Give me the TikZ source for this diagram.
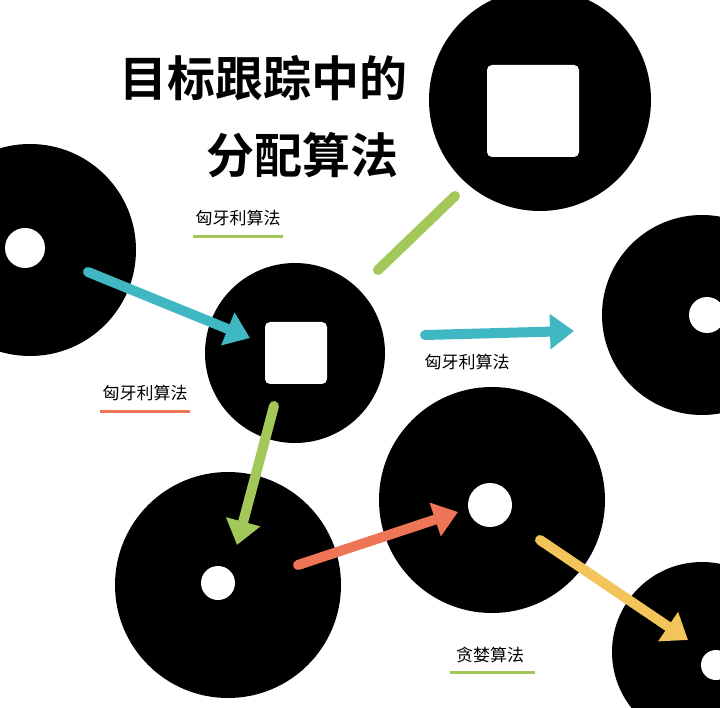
\documentclass[tikz,border=0pt]{standalone}
\usepackage{fontspec}
\newfontfamily\cjk{Noto Sans CJK SC}
\newfontfamily\cjkb{Noto Sans CJK SC Bold}
\usetikzlibrary{arrows.meta}
\definecolor{teal1}{HTML}{3FB8C4}
\definecolor{green1}{HTML}{A2C859}
\definecolor{coral}{HTML}{EE7656}
\definecolor{yel}{HTML}{F2C45A}
\tikzset{disk/.style={circle,fill=black,inner sep=0pt,minimum size=#1},
 hole/.style={circle,fill=white,inner sep=0pt,minimum size=#1},
 sq/.style={fill=white,rounded corners=5pt,inner sep=0pt,minimum size=#1},
 arr/.style={line width=10pt,line cap=round,draw=#1,-{Triangle[length=24pt,width=34pt]}},
 lab/.style={font=\cjk\fontsize{17}{17}\selectfont,inner sep=0pt},
 uline/.style={line width=3pt,draw=#1}}
\begin{document}
\begin{tikzpicture}[x=1pt,y=-1pt]
\useasboundingbox[fill=white] (0,0) rectangle (720,708);
\node[disk=212] (c1) at (30,250) {};
\node[hole=40] (h1) at (25,248) {};
\node[disk=222] (c2) at (540,100) {};
\node[sq=92] (s2) at (533,111) {};
\node[disk=180] (c3) at (295,353) {};
\node[sq=62] (s3) at (296,353) {};
\node[disk=200] (c4) at (702,315) {};
\node[hole=36] (h4) at (707,315) {};
\node[disk=226] (c5) at (228,585) {};
\node[hole=34] (h5) at (218,583) {};
\node[disk=226] (c6) at (492,500) {};
\node[hole=44] (h6) at (490,505) {};
\node[disk=180] (c7) at (702,652) {};
\node[hole=30] (h7) at (716,665) {};
\node[font=\cjkb\fontsize{48}{48}\selectfont,inner sep=0pt] (t1) at (263,78) {目标跟踪中的};
\node[font=\cjkb\fontsize{48}{48}\selectfont,inner sep=0pt] (t2) at (302,155) {分配算法};
\coordinate (a1s) at (88,272); \coordinate (a1e) at (250,338);
\draw[arr=teal1] (a1s) -- (a1e);
\coordinate (g1s) at (378,270); \coordinate (g1e) at (455,196);
\draw[line width=10pt,line cap=round,draw=green1] (g1s) -- (g1e);
\coordinate (a2s) at (425,335); \coordinate (a2e) at (574,331);
\draw[arr=teal1] (a2s) -- (a2e);
\coordinate (a3s) at (274,406); \coordinate (a3e) at (237,545);
\draw[arr=green1] (a3s) -- (a3e);
\coordinate (a4s) at (298,565); \coordinate (a4e) at (458,512);
\draw[arr=coral] (a4s) -- (a4e);
\coordinate (a5s) at (540,540); \coordinate (a5e) at (688,640);
\draw[arr=yel] (a5s) -- (a5e);
\node[lab] (l1) at (238,218) {匈牙利算法};
\draw[uline=green1] (193,237) -- (283,237);
\node[lab] (l2) at (145,393) {匈牙利算法};
\draw[uline=coral] (100,411) -- (190,411);
\node[lab] (l3) at (467,362) {匈牙利算法};
\node[lab] (l4) at (490,655) {贪婪算法};
\draw[uline=green1] (450,672) -- (535,672);
\end{tikzpicture}
\end{document}
